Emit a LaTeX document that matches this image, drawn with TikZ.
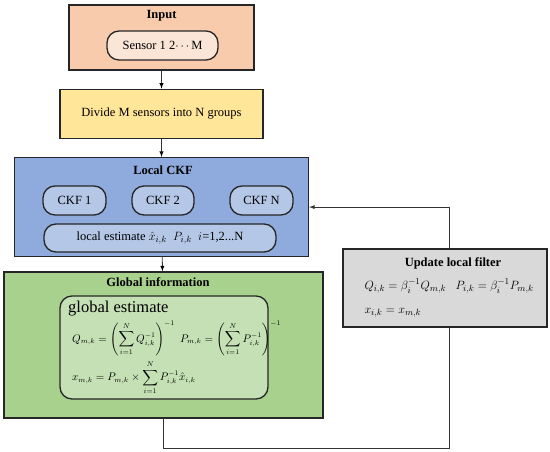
\documentclass[tikz,border=0pt]{standalone}
\usepackage{amsmath}
\usepackage{fontspec}
\setmainfont{Liberation Serif}
\usepackage {tikz}
\usetikzlibrary {positioning}

\definecolor{inputfill}{HTML}{F8CBAD}
\definecolor{sensorfill}{HTML}{FBE5D6}
\definecolor{dividefill}{HTML}{FFE699}
\definecolor{localfill}{HTML}{8FAADC}
\definecolor{ckffill}{HTML}{B4C7E7}
\definecolor{globalfill}{HTML}{A9D18E}
\definecolor{innerfill}{HTML}{C5E0B4}
\definecolor{updatefill}{HTML}{D9D9D9}

\begin{document}
\begin{tikzpicture}[x=1pt, y=1pt, >=latex,
                    every node/.style={font=\fontsize{12.5}{14}\selectfont},
                    main box/.style={rectangle,draw=black!85,line width=1.3pt,inner sep=0pt},
                    round box/.style={rectangle,draw=black!85,line width=1.3pt,rounded corners=12pt,inner sep=0pt},
                    title/.style={font=\fontsize{12.5}{14}\selectfont\bfseries},
                    formula/.style={anchor=west,inner sep=0pt,font=\fontsize{10.5}{12}\selectfont},
                    link/.style={draw=black!80,line width=0.9pt}]

  \useasboundingbox (0,0) rectangle (550,452);

  \node[main box, fill=inputfill, minimum width=185pt, minimum height=65pt] (input) at (161.5,414.5) {};
  \node[main box, fill=dividefill, minimum width=203pt, minimum height=49pt] (divide) [below=18pt of input] {Divide M sensors into N groups};
  \node[main box, fill=localfill, minimum width=294pt, minimum height=99pt] (local) [below=18pt of divide] {};
  \node[main box, fill=globalfill, minimum width=319pt, minimum height=146pt] (global) at (163.5,107) {};
  \node[main box, fill=updatefill, minimum width=204pt, minimum height=78pt] (update) at (445,164) {};

  % titles
  \node[title] (inputtitle) at (161.5,436) {Input};
  \node[title] (localtitle) at (163,282) {Local CKF};
  \node[title] (globaltitle) at (158,170) {Global information};
  \node[title] (updatetitle) at (453,189) {Update local filter};

  % inner boxes
  \node[round box, fill=sensorfill, minimum width=111pt, minimum height=29pt] (sensor) at (162.5,406.5) {Sensor 1 2$\cdots$M};
  \node[round box, fill=ckffill, minimum width=63pt, minimum height=29pt] (ckf1) at (74.5,251.5) {CKF 1};
  \node[round box, fill=ckffill, minimum width=62pt, minimum height=29pt] (ckf2) at (163,251.5) {CKF 2};
  \node[round box, fill=ckffill, minimum width=63pt, minimum height=29pt] (ckfn) at (261.5,251.5) {CKF N};
  \node[round box, fill=ckffill, minimum width=232pt, minimum height=28pt] (estimate) at (160,214)
    {local estimate $\hat{x}_{i,k}$\ \ $P_{i,k}$\ \ $i$=1,2...N};
  \node[round box, fill=innerfill, minimum width=208pt, minimum height=103pt] (inner) at (164,104.5) {};

  \node[anchor=base west, inner sep=0pt, font=\fontsize{16.5}{18}\selectfont] (globallabel) at (68,139) {global estimate};
  \node[formula] (globaleq1) at (72,113.5)
    {$Q_{m,k}=\Biggl(\displaystyle\sum_{i=1}^{N}Q_{i,k}^{-1}\Biggr)^{-1}\ \ P_{m,k}=\Biggl(\displaystyle\sum_{i=1}^{N}P_{i,k}^{-1}\Biggr)^{-1}$};
  \node[formula] (globaleq2) at (72,74.5)
    {$x_{m,k}=P_{m,k}\times\displaystyle\sum_{i=1}^{N}P_{i,k}^{-1}\hat{x}_{i,k}$};

  \node[anchor=west] (updateeq1) at (361,166)
    {$Q_{i,k}=\beta_i^{-1}Q_{m,k}\ \ \ P_{i,k}=\beta_i^{-1}P_{m,k}$};
  \node[anchor=west] (updateeq2) at (361,139)
    {$x_{i,k}=x_{m,k}$};

  \path[link]
    (input) edge[->] (divide)
    (divide) edge[->] (local)
    (local) edge[->] (global)
;
  \draw[link] (global.south) -- (global.south |- 0,4) -| ([xshift=4pt]update.south);
  \draw[link,->] ([xshift=4pt]update.north) |- (local.east);
\end{tikzpicture}
\end{document}
